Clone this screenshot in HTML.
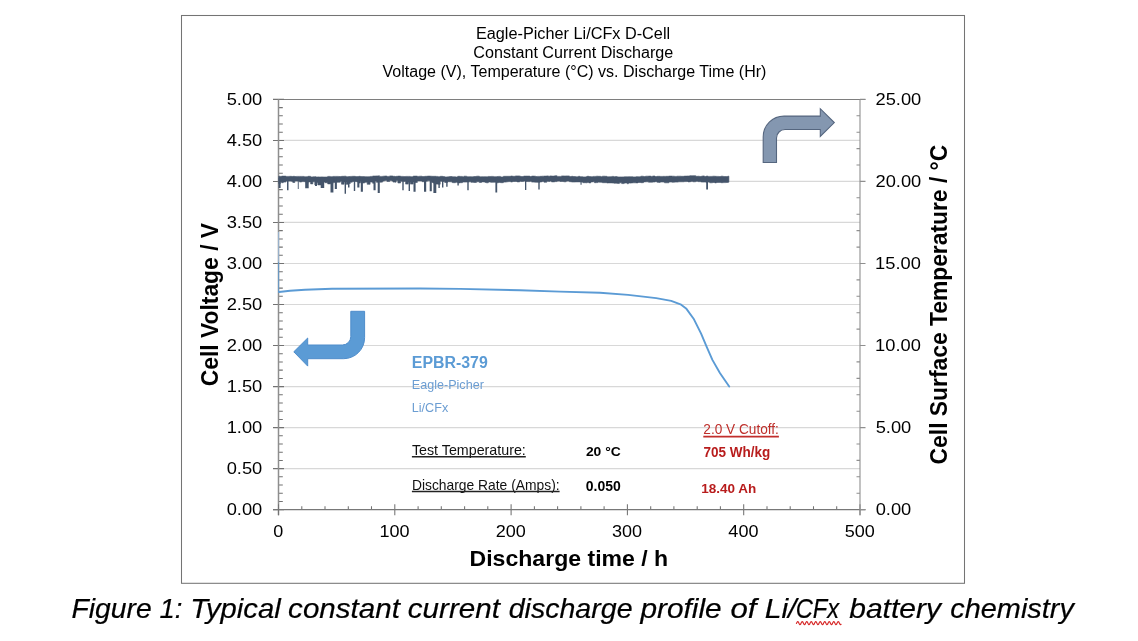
<!DOCTYPE html>
<html lang="en"><head><meta charset="utf-8"><title>Figure 1: Typical constant current discharge profile of Li/CFx battery chemistry</title>
<style>
html,body{margin:0;padding:0;background:#fff;}
body{width:1138px;height:641px;overflow:hidden;position:relative;font-family:"Liberation Sans",sans-serif;}
svg{position:absolute;left:0;top:0;display:block}
text{font-family:"Liberation Sans",sans-serif}
.b{font-weight:bold}
.i{font-style:italic}
.u{text-decoration:underline;text-decoration-skip-ink:none}
</style></head><body>
<svg width="1138" height="641" viewBox="0 0 1138 641">
<rect x="0" y="0" width="1138" height="641" fill="#fff"/>

<rect x="181.5" y="15.5" width="783" height="567.8" fill="#fff" stroke="#747474" stroke-width="1.05"/>
<line x1="278.5" y1="468.6" x2="860.0" y2="468.6" stroke="#d8d8d8" stroke-width="1.1"/>
<line x1="278.5" y1="427.6" x2="860.0" y2="427.6" stroke="#d8d8d8" stroke-width="1.1"/>
<line x1="278.5" y1="386.6" x2="860.0" y2="386.6" stroke="#d8d8d8" stroke-width="1.1"/>
<line x1="278.5" y1="345.5" x2="860.0" y2="345.5" stroke="#d8d8d8" stroke-width="1.1"/>
<line x1="278.5" y1="304.5" x2="860.0" y2="304.5" stroke="#d8d8d8" stroke-width="1.1"/>
<line x1="278.5" y1="263.5" x2="860.0" y2="263.5" stroke="#d8d8d8" stroke-width="1.1"/>
<line x1="278.5" y1="222.4" x2="860.0" y2="222.4" stroke="#d8d8d8" stroke-width="1.1"/>
<line x1="278.5" y1="181.4" x2="860.0" y2="181.4" stroke="#d8d8d8" stroke-width="1.1"/>
<line x1="278.5" y1="140.4" x2="860.0" y2="140.4" stroke="#d8d8d8" stroke-width="1.1"/>
<line x1="273" y1="99.5" x2="865.5" y2="99.5" stroke="#7e7e7e" stroke-width="1"/>
<path d="M273,509.6H284M278.5,501.4H282.8M278.5,493.2H282.8M278.5,485.0H282.8M278.5,476.8H282.8M273,468.6H284M278.5,460.4H282.8M278.5,452.2H282.8M278.5,444.0H282.8M278.5,435.8H282.8M273,427.6H284M278.5,419.4H282.8M278.5,411.2H282.8M278.5,403.0H282.8M278.5,394.8H282.8M273,386.6H284M278.5,378.4H282.8M278.5,370.1H282.8M278.5,361.9H282.8M278.5,353.7H282.8M273,345.5H284M278.5,337.3H282.8M278.5,329.1H282.8M278.5,320.9H282.8M278.5,312.7H282.8M273,304.5H284M278.5,296.3H282.8M278.5,288.1H282.8M278.5,279.9H282.8M278.5,271.7H282.8M273,263.5H284M278.5,255.3H282.8M278.5,247.1H282.8M278.5,238.9H282.8M278.5,230.6H282.8M273,222.4H284M278.5,214.2H282.8M278.5,206.0H282.8M278.5,197.8H282.8M278.5,189.6H282.8M273,181.4H284M278.5,173.2H282.8M278.5,165.0H282.8M278.5,156.8H282.8M278.5,148.6H282.8M273,140.4H284M278.5,132.2H282.8M278.5,124.0H282.8M278.5,115.8H282.8M278.5,107.6H282.8M273,99.3H284" stroke="#727272" stroke-width="1.05" fill="none"/>
<line x1="278.5" y1="99.35" x2="278.5" y2="515.15" stroke="#8e8e8e" stroke-width="1.5"/>
<path d="M278.5,504.15V515.15M301.8,506.15V509.65M325.0,506.15V509.65M348.3,506.15V509.65M371.5,506.15V509.65M394.8,504.15V515.15M418.1,506.15V509.65M441.3,506.15V509.65M464.6,506.15V509.65M487.8,506.15V509.65M511.1,504.15V515.15M534.4,506.15V509.65M557.6,506.15V509.65M580.9,506.15V509.65M604.1,506.15V509.65M627.4,504.15V515.15M650.7,506.15V509.65M673.9,506.15V509.65M697.2,506.15V509.65M720.4,506.15V509.65M743.7,504.15V515.15M767.0,506.15V509.65M790.2,506.15V509.65M813.5,506.15V509.65M836.7,506.15V509.65M860.0,504.15V515.15" stroke="#727272" stroke-width="1.05" fill="none"/>
<line x1="273" y1="509.65" x2="865.5" y2="509.65" stroke="#787878" stroke-width="1.15"/>
<path d="M860.0,509.6H865.5M856.5,493.2H860.0M856.5,476.8H860.0M856.5,460.4H860.0M856.5,444.0H860.0M860.0,427.6H865.5M856.5,411.2H860.0M856.5,394.8H860.0M856.5,378.4H860.0M856.5,361.9H860.0M860.0,345.5H865.5M856.5,329.1H860.0M856.5,312.7H860.0M856.5,296.3H860.0M856.5,279.9H860.0M860.0,263.5H865.5M856.5,247.1H860.0M856.5,230.6H860.0M856.5,214.2H860.0M856.5,197.8H860.0M860.0,181.4H865.5M856.5,165.0H860.0M856.5,148.6H860.0M856.5,132.2H860.0M856.5,115.8H860.0M860.0,99.3H865.5" stroke="#8f8f8f" stroke-width="1.1" fill="none"/>
<line x1="860.0" y1="99.35" x2="860.0" y2="515.15" stroke="#8f8f8f" stroke-width="1.1"/>
<polygon points="278.7,176.2 280.4,176.2 280.4,176.6 281.5,176.6 281.5,176.1 283.3,176.1 283.3,176.1 284.8,176.1 284.8,176.1 285.9,176.1 285.9,176.4 287.1,176.4 287.1,176.4 289.5,176.4 289.5,176.3 291.7,176.3 291.7,176.6 292.8,176.6 292.8,176.3 294.8,176.3 294.8,176.5 296.4,176.5 296.4,176.4 297.7,176.4 297.7,176.4 299.5,176.4 299.5,176.4 301.7,176.4 301.7,176.4 304.2,176.4 304.2,176.8 306.2,176.8 306.2,176.7 307.9,176.7 307.9,176.3 310.6,176.3 310.6,176.9 312.8,176.9 312.8,176.8 314.8,176.8 314.8,176.7 316.0,176.7 316.0,177.0 317.8,177.0 317.8,176.9 318.9,176.9 318.9,177.0 321.1,177.0 321.1,176.9 322.8,176.9 322.8,177.0 324.9,177.0 324.9,177.0 327.7,177.0 327.7,176.4 330.3,176.4 330.3,176.7 332.8,176.7 332.8,176.4 335.6,176.4 335.6,176.4 338.6,176.4 338.6,176.5 340.3,176.5 340.3,176.6 341.5,176.6 341.5,176.3 344.1,176.3 344.1,176.2 346.2,176.2 346.2,176.7 348.4,176.7 348.4,176.5 350.3,176.5 350.3,176.4 352.3,176.4 352.3,176.3 355.4,176.3 355.4,176.6 356.7,176.6 356.7,176.6 358.8,176.6 358.8,176.3 360.4,176.3 360.4,176.6 362.2,176.6 362.2,176.6 364.7,176.6 364.7,176.7 367.2,176.7 367.2,176.7 370.1,176.7 370.1,176.4 372.6,176.4 372.6,176.0 374.5,176.0 374.5,176.0 376.4,176.0 376.4,175.9 378.4,175.9 378.4,175.8 379.5,175.8 379.5,176.4 381.7,176.4 381.7,176.4 382.7,176.4 382.7,176.2 384.5,176.2 384.5,176.0 386.9,176.0 386.9,176.4 389.7,176.4 389.7,175.9 391.8,175.9 391.8,176.0 393.0,176.0 393.0,176.3 395.1,176.3 395.1,176.5 396.1,176.5 396.1,176.3 397.9,176.3 397.9,176.1 400.6,176.1 400.6,176.4 403.5,176.4 403.5,176.6 405.6,176.6 405.6,176.4 408.3,176.4 408.3,176.4 410.4,176.4 410.4,176.7 413.2,176.7 413.2,176.1 414.6,176.1 414.6,176.1 417.3,176.1 417.3,176.4 419.4,176.4 419.4,176.2 422.1,176.2 422.1,176.5 424.6,176.5 424.6,176.3 427.4,176.3 427.4,176.1 430.5,176.1 430.5,176.2 431.7,176.2 431.7,176.3 433.2,176.3 433.2,176.3 436.0,176.3 436.0,176.4 437.8,176.4 437.8,176.7 440.2,176.7 440.2,176.3 442.8,176.3 442.8,176.6 444.7,176.6 444.7,176.9 447.5,176.9 447.5,176.8 449.5,176.8 449.5,176.5 452.1,176.5 452.1,176.8 453.2,176.8 453.2,176.8 455.6,176.8 455.6,177.0 457.7,177.0 457.7,176.3 459.9,176.3 459.9,176.4 462.5,176.4 462.5,176.9 463.8,176.9 463.8,176.2 466.7,176.2 466.7,176.7 468.8,176.7 468.8,176.7 471.0,176.7 471.0,176.8 473.6,176.8 473.6,176.5 476.4,176.5 476.4,176.2 479.4,176.2 479.4,176.8 481.5,176.8 481.5,176.7 483.8,176.7 483.8,176.7 485.1,176.7 485.1,176.7 486.3,176.7 486.3,176.8 488.3,176.8 488.3,176.4 489.5,176.4 489.5,176.6 490.7,176.6 490.7,176.4 493.6,176.4 493.6,176.7 496.8,176.7 496.8,176.6 498.4,176.6 498.4,176.4 500.5,176.4 500.5,176.9 503.4,176.9 503.4,176.3 506.4,176.3 506.4,176.3 508.3,176.3 508.3,176.3 510.8,176.3 510.8,176.0 512.5,176.0 512.5,176.3 515.5,176.3 515.5,175.9 517.1,175.9 517.1,175.9 519.7,175.9 519.7,176.3 521.1,176.3 521.1,176.5 523.6,176.5 523.6,176.1 525.6,176.1 525.6,176.1 527.4,176.1 527.4,176.1 529.9,176.1 529.9,176.6 531.6,176.6 531.6,176.1 534.6,176.1 534.6,176.2 535.8,176.2 535.8,176.5 537.2,176.5 537.2,176.4 540.0,176.4 540.0,176.3 541.9,176.3 541.9,176.2 544.0,176.2 544.0,176.1 546.8,176.1 546.8,175.9 548.4,175.9 548.4,176.3 549.9,176.3 549.9,175.9 551.5,175.9 551.5,176.1 554.7,176.1 554.7,175.8 557.1,175.8 557.1,176.4 560.1,176.4 560.1,176.4 561.5,176.4 561.5,175.9 563.7,175.9 563.7,176.0 566.2,176.0 566.2,175.9 569.4,175.9 569.4,176.6 571.5,176.6 571.5,176.3 573.0,176.3 573.0,176.5 575.5,176.5 575.5,176.8 578.4,176.8 578.4,176.3 579.9,176.3 579.9,176.7 582.8,176.7 582.8,176.9 586.0,176.9 586.0,176.7 587.0,176.7 587.0,176.3 589.0,176.3 589.0,176.6 590.8,176.6 590.8,176.7 593.1,176.7 593.1,176.4 594.5,176.4 594.5,176.4 596.3,176.4 596.3,176.2 598.1,176.2 598.1,176.3 599.5,176.3 599.5,176.3 600.7,176.3 600.7,176.7 602.3,176.7 602.3,176.2 605.1,176.2 605.1,176.3 606.9,176.3 606.9,176.8 608.1,176.8 608.1,176.8 609.5,176.8 609.5,176.7 611.8,176.7 611.8,176.4 613.9,176.4 613.9,176.8 615.2,176.8 615.2,176.6 617.3,176.6 617.3,176.9 619.4,176.9 619.4,176.9 621.7,176.9 621.7,176.9 624.2,176.9 624.2,176.8 627.3,176.8 627.3,176.8 628.4,176.8 628.4,176.7 630.2,176.7 630.2,176.7 631.2,176.7 631.2,176.7 632.8,176.7 632.8,176.9 635.9,176.9 635.9,176.7 638.0,176.7 638.0,176.8 640.8,176.8 640.8,176.2 643.5,176.2 643.5,176.6 645.5,176.6 645.5,176.2 648.5,176.2 648.5,176.1 650.9,176.1 650.9,176.4 652.6,176.4 652.6,176.0 655.0,176.0 655.0,176.6 657.1,176.6 657.1,176.3 658.5,176.3 658.5,176.3 660.2,176.3 660.2,176.4 663.3,176.4 663.3,176.3 664.5,176.3 664.5,176.4 665.7,176.4 665.7,176.3 668.9,176.3 668.9,176.1 671.9,176.1 671.9,176.2 674.6,176.2 674.6,176.4 676.9,176.4 676.9,176.2 678.2,176.2 678.2,176.2 681.1,176.2 681.1,176.3 684.2,176.3 684.2,176.1 686.8,176.1 686.8,176.0 688.0,176.0 688.0,176.0 689.8,176.0 689.8,175.7 691.2,175.7 691.2,175.7 692.8,175.7 692.8,175.7 695.7,175.7 695.7,176.3 698.3,176.3 698.3,176.2 699.5,176.2 699.5,176.5 700.8,176.5 700.8,176.3 702.5,176.3 702.5,175.9 704.4,175.9 704.4,176.5 706.3,176.5 706.3,176.0 707.8,176.0 707.8,176.4 709.7,176.4 709.7,176.4 712.6,176.4 712.6,176.2 714.8,176.2 714.8,176.3 716.4,176.3 716.4,176.4 718.8,176.4 718.8,176.6 720.9,176.6 720.9,176.2 723.3,176.2 723.3,176.5 726.1,176.5 726.1,176.6 727.8,176.6 727.8,176.2 728.9,176.2 728.9,182.2 727.8,182.2 727.8,182.5 726.1,182.5 726.1,182.6 723.3,182.6 723.3,182.7 720.9,182.7 720.9,182.4 718.8,182.4 718.8,182.5 716.4,182.5 716.4,182.9 714.8,182.9 714.8,182.5 712.6,182.5 712.6,182.8 709.7,182.8 709.7,182.0 707.8,182.0 707.8,182.6 706.3,182.6 706.3,182.1 704.4,182.1 704.4,182.1 702.5,182.1 702.5,182.0 700.8,182.0 700.8,181.6 699.5,181.6 699.5,181.7 698.3,181.7 698.3,181.3 695.7,181.3 695.7,181.8 692.8,181.8 692.8,181.3 691.2,181.3 691.2,181.7 689.8,181.7 689.8,181.9 688.0,181.9 688.0,181.4 686.8,181.4 686.8,181.6 684.2,181.6 684.2,181.8 681.1,181.8 681.1,181.8 678.2,181.8 678.2,182.1 676.9,182.1 676.9,182.1 674.6,182.1 674.6,182.2 671.9,182.2 671.9,182.0 668.9,182.0 668.9,182.8 665.7,182.8 665.7,182.8 664.5,182.8 664.5,182.1 663.3,182.1 663.3,182.0 660.2,182.0 660.2,182.4 658.5,182.4 658.5,182.3 657.1,182.3 657.1,181.7 655.0,181.7 655.0,182.0 652.6,182.0 652.6,182.2 650.9,182.2 650.9,182.2 648.5,182.2 648.5,181.8 645.5,181.8 645.5,181.9 643.5,181.9 643.5,182.7 640.8,182.7 640.8,182.5 638.0,182.5 638.0,182.9 635.9,182.9 635.9,182.8 632.8,182.8 632.8,182.9 631.2,182.9 631.2,183.1 630.2,183.1 630.2,183.0 628.4,183.0 628.4,183.8 627.3,183.8 627.3,183.0 624.2,183.0 624.2,183.6 621.7,183.6 621.7,182.8 619.4,182.8 619.4,183.4 617.3,183.4 617.3,183.2 615.2,183.2 615.2,183.2 613.9,183.2 613.9,183.0 611.8,183.0 611.8,182.9 609.5,182.9 609.5,182.9 608.1,182.9 608.1,183.0 606.9,183.0 606.9,182.7 605.1,182.7 605.1,182.7 602.3,182.7 602.3,182.3 600.7,182.3 600.7,182.3 599.5,182.3 599.5,182.0 598.1,182.0 598.1,182.6 596.3,182.6 596.3,182.7 594.5,182.7 594.5,181.8 593.1,181.8 593.1,181.9 590.8,181.9 590.8,182.9 589.0,182.9 589.0,182.6 587.0,182.6 587.0,182.8 586.0,182.8 586.0,182.7 582.8,182.7 582.8,182.0 579.9,182.0 579.9,181.9 578.4,181.9 578.4,181.9 575.5,181.9 575.5,182.0 573.0,182.0 573.0,182.0 571.5,182.0 571.5,181.7 569.4,181.7 569.4,181.1 566.2,181.1 566.2,181.8 563.7,181.8 563.7,181.4 561.5,181.4 561.5,181.5 560.1,181.5 560.1,181.1 557.1,181.1 557.1,181.6 554.7,181.6 554.7,181.9 551.5,181.9 551.5,181.1 549.9,181.1 549.9,181.4 548.4,181.4 548.4,181.3 546.8,181.3 546.8,182.2 544.0,182.2 544.0,181.6 541.9,181.6 541.9,181.9 540.0,181.9 540.0,182.3 537.2,182.3 537.2,182.2 535.8,182.2 535.8,182.2 534.6,182.2 534.6,182.1 531.6,182.1 531.6,181.3 529.9,181.3 529.9,181.6 527.4,181.6 527.4,181.5 525.6,181.5 525.6,181.1 523.6,181.1 523.6,181.4 521.1,181.4 521.1,181.2 519.7,181.2 519.7,181.9 517.1,181.9 517.1,181.5 515.5,181.5 515.5,181.5 512.5,181.5 512.5,182.0 510.8,182.0 510.8,181.6 508.3,181.6 508.3,181.8 506.4,181.8 506.4,182.1 503.4,182.1 503.4,182.7 500.5,182.7 500.5,182.4 498.4,182.4 498.4,182.8 496.8,182.8 496.8,182.2 493.6,182.2 493.6,182.3 490.7,182.3 490.7,182.0 489.5,182.0 489.5,182.0 488.3,182.0 488.3,182.8 486.3,182.8 486.3,182.4 485.1,182.4 485.1,182.0 483.8,182.0 483.8,181.9 481.5,181.9 481.5,182.5 479.4,182.5 479.4,181.8 476.4,181.8 476.4,182.5 473.6,182.5 473.6,182.3 471.0,182.3 471.0,181.8 468.8,181.8 468.8,182.1 466.7,182.1 466.7,182.1 463.8,182.1 463.8,182.1 462.5,182.1 462.5,182.7 459.9,182.7 459.9,182.9 457.7,182.9 457.7,182.3 455.6,182.3 455.6,182.7 453.2,182.7 453.2,182.6 452.1,182.6 452.1,181.8 449.5,181.8 449.5,181.7 447.5,181.7 447.5,182.5 444.7,182.5 444.7,181.5 442.8,181.5 442.8,181.3 440.2,181.3 440.2,184.2 437.8,184.2 437.8,184.1 436.0,184.1 436.0,183.1 433.2,183.1 433.2,182.4 431.7,182.4 431.7,181.2 430.5,181.2 430.5,180.8 427.4,180.8 427.4,181.2 424.6,181.2 424.6,181.7 422.1,181.7 422.1,180.9 419.4,180.9 419.4,180.9 417.3,180.9 417.3,182.5 414.6,182.5 414.6,181.9 413.2,181.9 413.2,184.1 410.4,184.1 410.4,182.6 408.3,182.6 408.3,184.1 405.6,184.1 405.6,181.4 403.5,181.4 403.5,181.3 400.6,181.3 400.6,183.0 397.9,183.0 397.9,180.8 396.1,180.8 396.1,182.2 395.1,182.2 395.1,182.1 393.0,182.1 393.0,181.0 391.8,181.0 391.8,180.5 389.7,180.5 389.7,181.4 386.9,181.4 386.9,180.5 384.5,180.5 384.5,181.0 382.7,181.0 382.7,182.1 381.7,182.1 381.7,182.2 379.5,182.2 379.5,180.7 378.4,180.7 378.4,182.3 376.4,182.3 376.4,180.9 374.5,180.9 374.5,183.2 372.6,183.2 372.6,182.1 370.1,182.1 370.1,184.3 367.2,184.3 367.2,182.3 364.7,182.3 364.7,183.0 362.2,183.0 362.2,181.5 360.4,181.5 360.4,183.0 358.8,183.0 358.8,181.9 356.7,181.9 356.7,181.5 355.4,181.5 355.4,181.4 352.3,181.4 352.3,182.2 350.3,182.2 350.3,183.5 348.4,183.5 348.4,184.3 346.2,184.3 346.2,182.1 344.1,182.1 344.1,184.2 341.5,184.2 341.5,181.3 340.3,181.3 340.3,182.2 338.6,182.2 338.6,182.3 335.6,182.3 335.6,182.4 332.8,182.4 332.8,183.8 330.3,183.8 330.3,183.9 327.7,183.9 327.7,182.7 324.9,182.7 324.9,181.9 322.8,181.9 322.8,183.4 321.1,183.4 321.1,184.9 318.9,184.9 318.9,184.9 317.8,184.9 317.8,182.8 316.0,182.8 316.0,184.9 314.8,184.9 314.8,181.8 312.8,181.8 312.8,183.9 310.6,183.9 310.6,181.9 307.9,181.9 307.9,183.6 306.2,183.6 306.2,181.7 304.2,181.7 304.2,181.6 301.7,181.6 301.7,182.0 299.5,182.0 299.5,181.1 297.7,181.1 297.7,181.0 296.4,181.0 296.4,181.0 294.8,181.0 294.8,182.5 292.8,182.5 292.8,181.4 291.7,181.4 291.7,181.1 289.5,181.1 289.5,181.1 287.1,181.1 287.1,181.1 285.9,181.1 285.9,182.1 284.8,182.1 284.8,182.1 283.3,182.1 283.3,182.7 281.5,182.7 281.5,181.2 280.4,181.2 280.4,183.5 278.7,183.5" fill="#44546a" stroke="#44546a" stroke-width="0.6" stroke-linejoin="round"/>
<path d="M278.6,178H280.6V188.0H278.6ZM287.0,178H288.5V190.3H287.0ZM297.8,178H298.7V189.0H297.8ZM305.2,178H308.7V188.2H305.2ZM315.0,178H317.0V186.0H315.0ZM320.7,178H324.2V188.0H320.7ZM330.5,178H333.4V192.4H330.5ZM334.8,178H336.9V189.0H334.8ZM344.6,178H346.0V193.8H344.6ZM348.0,178H349.5V187.5H348.0ZM353.8,178H355.2V191.0H353.8ZM357.3,178H359.4V187.5H357.3ZM360.8,178H362.9V191.7H360.8ZM373.5,178H375.6V190.3H373.5ZM377.7,178H379.8V193.1H377.7ZM402.3,178H403.7V190.3H402.3ZM408.6,178H410.0V191.0H408.6ZM413.5,178H415.6V191.7H413.5ZM424.0,178H426.2V191.7H424.0ZM429.7,178H431.8V191.3H429.7ZM433.4,178H436.3V193.0H433.4ZM438.4,178H439.8V188.0H438.4ZM442.0,178H443.4V187.5H442.0ZM446.2,178H447.6V186.8H446.2ZM457.4,178H458.8V185.4H457.4ZM467.3,178H468.7V190.3H467.3ZM495.4,178H497.2V192.4H495.4ZM525.0,178H526.3V190.0H525.0ZM538.3,178H539.7V189.6H538.3ZM580.5,178H581.6V184.7H580.5ZM706.2,178H708.0V189.6H706.2Z" fill="#44546a"/>
<path d="M278.6,232V262" stroke="#9cc2e8" stroke-width="1.1" stroke-opacity="0.7" fill="none"/>
<path d="M278.6,262V292" stroke="#5b9bd5" stroke-width="1.1" stroke-opacity="0.75" fill="none"/>
<polyline points="279,292 290,290.8 305,289.7 332,288.7 420,288.5 460,288.9 520,290.2 560,291.6 600,292.8 628.1,294.9 656.2,298.1 671.2,300.9 680.5,304.3 686.1,308.4 693.6,318.7 701.1,333.7 706.7,346.8 712.4,359.9 719.9,373 729.2,386.5" fill="none" stroke="#5b9bd5" stroke-width="1.9" stroke-linejoin="round" stroke-linecap="round"/>
<path d="M763.2,162.5V136.9A20.8,20.8 0 0 1 784,116.1H820.3V108.7L834.3,122.6L820.3,136.5V129.5H785A8.5,8.5 0 0 0 776.5,138V162.5Z" fill="#8497b0" stroke="#55667f" stroke-width="1.1" stroke-linejoin="miter"/>
<path d="M350.8,311.3H364.6V337.7A21,21 0 0 1 343.6,358.7H307.7V366.1L293.8,351.8L307.7,338V345H342.4A8.4,8.4 0 0 0 350.8,336.6Z" fill="#5b9bd5" stroke="#4f8dcb" stroke-width="1" stroke-linejoin="miter"/>
<text x="475.96" y="39.1" font-size="15.6" fill="#000" textLength="194.15" lengthAdjust="spacingAndGlyphs">Eagle-Picher Li/CFx D-Cell</text>
<text x="473.29" y="57.8" font-size="15.6" fill="#000" textLength="199.99" lengthAdjust="spacingAndGlyphs">Constant Current Discharge</text>
<text x="382.52" y="76.6" font-size="15.6" fill="#000" textLength="383.94" lengthAdjust="spacingAndGlyphs">Voltage (V), Temperature (°C) vs. Discharge Time (Hr)</text>
<text x="226.67" y="515.4" font-size="16.8" fill="#000" textLength="35.64" lengthAdjust="spacingAndGlyphs">0.00</text>
<text x="226.67" y="474.4" font-size="16.8" fill="#000" textLength="35.64" lengthAdjust="spacingAndGlyphs">0.50</text>
<text x="226.67" y="433.4" font-size="16.8" fill="#000" textLength="35.64" lengthAdjust="spacingAndGlyphs">1.00</text>
<text x="226.67" y="392.4" font-size="16.8" fill="#000" textLength="35.64" lengthAdjust="spacingAndGlyphs">1.50</text>
<text x="226.67" y="351.3" font-size="16.8" fill="#000" textLength="35.64" lengthAdjust="spacingAndGlyphs">2.00</text>
<text x="226.67" y="310.3" font-size="16.8" fill="#000" textLength="35.64" lengthAdjust="spacingAndGlyphs">2.50</text>
<text x="226.67" y="269.3" font-size="16.8" fill="#000" textLength="35.64" lengthAdjust="spacingAndGlyphs">3.00</text>
<text x="226.67" y="228.2" font-size="16.8" fill="#000" textLength="35.64" lengthAdjust="spacingAndGlyphs">3.50</text>
<text x="226.67" y="187.2" font-size="16.8" fill="#000" textLength="35.64" lengthAdjust="spacingAndGlyphs">4.00</text>
<text x="226.67" y="146.2" font-size="16.8" fill="#000" textLength="35.64" lengthAdjust="spacingAndGlyphs">4.50</text>
<text x="226.67" y="105.1" font-size="16.8" fill="#000" textLength="35.64" lengthAdjust="spacingAndGlyphs">5.00</text>
<text x="875.67" y="515.4" font-size="16.8" fill="#000" textLength="35.64" lengthAdjust="spacingAndGlyphs">0.00</text>
<text x="875.67" y="433.4" font-size="16.8" fill="#000" textLength="35.64" lengthAdjust="spacingAndGlyphs">5.00</text>
<text x="875.03" y="351.3" font-size="16.8" fill="#000" textLength="45.83" lengthAdjust="spacingAndGlyphs">10.00</text>
<text x="875.03" y="269.3" font-size="16.8" fill="#000" textLength="45.83" lengthAdjust="spacingAndGlyphs">15.00</text>
<text x="875.48" y="187.2" font-size="16.8" fill="#000" textLength="45.83" lengthAdjust="spacingAndGlyphs">20.00</text>
<text x="875.48" y="105.1" font-size="16.8" fill="#000" textLength="45.83" lengthAdjust="spacingAndGlyphs">25.00</text>
<text x="273.18" y="537.2" font-size="16.8" fill="#000" textLength="10.03" lengthAdjust="spacingAndGlyphs">0</text>
<text x="379.45" y="537.2" font-size="16.8" fill="#000" textLength="30.10" lengthAdjust="spacingAndGlyphs">100</text>
<text x="495.75" y="537.2" font-size="16.8" fill="#000" textLength="30.10" lengthAdjust="spacingAndGlyphs">200</text>
<text x="612.05" y="537.2" font-size="16.8" fill="#000" textLength="30.10" lengthAdjust="spacingAndGlyphs">300</text>
<text x="728.35" y="537.2" font-size="16.8" fill="#000" textLength="30.10" lengthAdjust="spacingAndGlyphs">400</text>
<text x="844.65" y="537.2" font-size="16.8" fill="#000" textLength="30.10" lengthAdjust="spacingAndGlyphs">500</text>
<text x="-0.91" y="0" font-size="23.8" fill="#000" class="b" textLength="163.39" lengthAdjust="spacingAndGlyphs" transform="translate(218.1,385.4) rotate(-90)">Cell Voltage / V</text>
<text x="-0.91" y="0" font-size="24" fill="#000" class="b" textLength="319.64" lengthAdjust="spacingAndGlyphs" transform="translate(947.3,463.5) rotate(-90)">Cell Surface Temperature / °C</text>
<text x="469.54" y="566.2" font-size="22.6" fill="#000" class="b" textLength="198.68" lengthAdjust="spacingAndGlyphs">Discharge time / h</text>
<text x="411.83" y="368" font-size="15.6" fill="#5b9bd5" class="b" textLength="75.97" lengthAdjust="spacingAndGlyphs">EPBR-379</text>
<text x="411.76" y="388.8" font-size="12.4" fill="#6b9dd2" textLength="72.13" lengthAdjust="spacingAndGlyphs">Eagle-Picher</text>
<text x="411.76" y="412.4" font-size="13.2" fill="#6b9dd2" textLength="36.49" lengthAdjust="spacingAndGlyphs">Li/CFx</text>
<text x="411.95" y="455" font-size="14.8" fill="#111" textLength="113.85" lengthAdjust="spacingAndGlyphs">Test Temperature:</text>
<line x1="411.9" y1="456.8" x2="525.8" y2="456.8" stroke="#222" stroke-width="1.6"/>
<text x="411.95" y="490" font-size="14.5" fill="#111" textLength="147.65" lengthAdjust="spacingAndGlyphs">Discharge Rate (Amps):</text>
<line x1="411.9" y1="491.5" x2="559.6" y2="491.5" stroke="#222" stroke-width="1.4"/>
<text x="585.91" y="456" font-size="13.5" fill="#000" class="b" textLength="34.86" lengthAdjust="spacingAndGlyphs">20 °C</text>
<text x="585.84" y="491" font-size="14.3" fill="#000" class="b" textLength="35.02" lengthAdjust="spacingAndGlyphs">0.050</text>
<text x="703.30" y="434" font-size="14.4" fill="#bf2f2b" textLength="75.60" lengthAdjust="spacingAndGlyphs">2.0 V Cutoff:</text>
<line x1="703.3" y1="436.6" x2="778.9" y2="436.6" stroke="#c22e2c" stroke-width="1.6"/>
<text x="703.53" y="457" font-size="13.8" fill="#b81c1c" class="b" textLength="66.76" lengthAdjust="spacingAndGlyphs">705 Wh/kg</text>
<text x="701.26" y="493" font-size="13.4" fill="#b81c1c" class="b" textLength="55.07" lengthAdjust="spacingAndGlyphs">18.40 Ah</text>
<text y="617.7" font-size="28.0" fill="#000" stroke="#000" stroke-width="0.2" class="i"><tspan x="71.55" textLength="80.20" lengthAdjust="spacingAndGlyphs">Figure</tspan> <tspan x="159.41" textLength="22.93" lengthAdjust="spacingAndGlyphs">1:</tspan> <tspan x="190.27" textLength="90.40" lengthAdjust="spacingAndGlyphs">Typical</tspan> <tspan x="288.14" textLength="111.84" lengthAdjust="spacingAndGlyphs">constant</tspan> <tspan x="407.74" textLength="92.22" lengthAdjust="spacingAndGlyphs">current</tspan> <tspan x="508.67" textLength="123.86" lengthAdjust="spacingAndGlyphs">discharge</tspan> <tspan x="640.45" textLength="81.24" lengthAdjust="spacingAndGlyphs">profile</tspan> <tspan x="730.49" textLength="26.03" lengthAdjust="spacingAndGlyphs">of</tspan> <tspan x="764.70" textLength="31.78" lengthAdjust="spacingAndGlyphs">Li/</tspan><tspan x="795.70" textLength="43.47" lengthAdjust="spacingAndGlyphs">CFx</tspan> <tspan x="849.25" textLength="91.74" lengthAdjust="spacingAndGlyphs">battery</tspan> <tspan x="950.31" textLength="123.57" lengthAdjust="spacingAndGlyphs">chemistry</tspan></text>
<path d="M796.3,623.9Q797.42,620.3 798.55,622.3Q799.67,625.9 800.80,623.9Q801.92,620.3 803.05,622.3Q804.17,625.9 805.30,623.9Q806.42,620.3 807.55,622.3Q808.67,625.9 809.80,623.9Q810.92,620.3 812.05,622.3Q813.17,625.9 814.30,623.9Q815.42,620.3 816.55,622.3Q817.67,625.9 818.80,623.9Q819.92,620.3 821.05,622.3Q822.17,625.9 823.30,623.9Q824.42,620.3 825.55,622.3Q826.67,625.9 827.80,623.9Q828.92,620.3 830.05,622.3Q831.17,625.9 832.30,623.9Q833.42,620.3 834.55,622.3Q835.67,625.9 836.80,623.9Q837.92,620.3 839.05,622.3Q840.17,625.9 841.30,623.9" fill="none" stroke="#d62626" stroke-width="1.15"/>
</svg></body></html>
